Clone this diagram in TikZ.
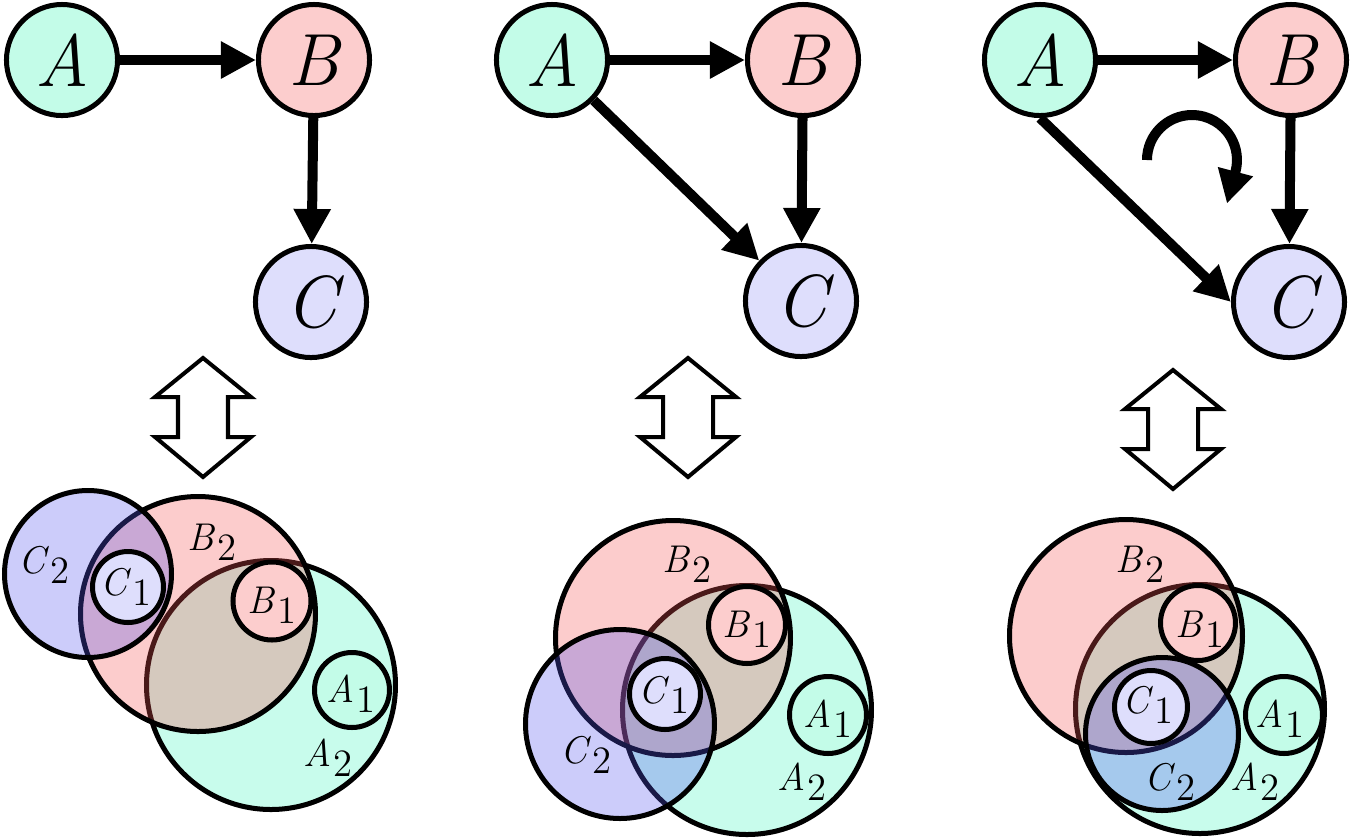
\documentclass[tikz,border=0pt]{standalone}
\usetikzlibrary{arrows.meta}
\definecolor{nA}{RGB}{195,252,232}
\definecolor{nB}{RGB}{252,205,205}
\definecolor{nC}{RGB}{222,222,252}
\definecolor{vA}{RGB}{72,245,192}
\definecolor{vB}{RGB}{245,85,85}
\definecolor{vC}{RGB}{85,85,238}
\newcommand\vlab[2]{\textit{#1}\kern0.05em\raisebox{-0.27em}{\upshape #2}}
\begin{document}
\begin{tikzpicture}[x=0.01cm,y=-0.01cm,
  gnode/.style={circle, draw, line width=0.05cm, minimum size=1.11cm, inner sep=0pt, font=\fontsize{21}{25}\selectfont\itshape},
  garrow/.style={line width=0.1cm, -{Triangle[length=0.35cm,width=0.35cm]}},
  hollow/.style={draw, line width=0.04cm, fill=white, line join=miter},
  big/.style={draw=black, line width=0.05cm, fill opacity=0.3},
  small/.style={draw=black, line width=0.05cm},
  vl/.style={anchor=base, inner sep=0pt, font=\fontsize{11}{13}\selectfont}]
\useasboundingbox (0,0) rectangle (1350,838);

% ---- top graphs ----
\node[gnode,fill=nA] (gA1) at (62,60) {A};
\node[gnode,fill=nB] (gB1) at (314,60) {B};
\node[gnode,fill=nC] (gC1) at (311,302) {C};
\draw[garrow] (gA1) -- (gB1);
\draw[garrow] (gB1) -- (gC1);

\node[gnode,fill=nA] (gA2) at (552,60) {A};
\node[gnode,fill=nB] (gB2) at (803,60) {B};
\node[gnode,fill=nC] (gC2) at (801,301) {C};
\draw[garrow] (gA2) -- (gB2);
\draw[garrow] (gB2) -- (gC2);
\draw[garrow] (gA2) -- (gC2);

\node[gnode,fill=nA] (gA3) at (1040,60) {A};
\node[gnode,fill=nB] (gB3) at (1291,60) {B};
\node[gnode,fill=nC] (gC3) at (1289,302) {C};
\draw[garrow] (gA3) -- (gB3);
\draw[garrow] (gB3) -- (gC3);
\draw[garrow] (gA3.south) -- (gC3.west);
\draw[line width=0.1cm, -{Triangle[length=0.33cm,width=0.34cm]}] (1147,160) arc[start angle=180, end angle=375, radius=45] -- ++(-8.5,31.9);

% ---- hollow double arrows ----
\foreach \cx/\cy in {203/417, 688/417, 1173/429} {
  \draw[hollow] (\cx,\cy) ++(0,-59) -- ++(48,39) -- ++(-23,0) -- ++(0,40) -- ++(23,0) -- ++(-48,40) -- ++(-48,-40) -- ++(23,0) -- ++(0,-40) -- ++(-23,0) -- cycle;
}

% ---- venn 1 ----
\draw[big, fill=vA] (271,685) circle[radius=124.5];
\draw[big, fill=vB] (198,614) circle[radius=117.5];
\draw[big, fill=vC] (88,574) circle[radius=83.5];
\draw[small, fill=nC] (128,587) circle[radius=35.5];
\draw[small, fill=nB] (272,601) circle[radius=39];
\draw[small, fill=nA] (352,690) circle[radius=37.5];
\node[vl] (l1c2) at (44,573) {\vlab{C}{2}};
\node[vl] (l1c1) at (126,595) {\vlab{C}{1}};
\node[vl] (l1b2) at (212,550) {\vlab{B}{2}};
\node[vl] (l1b1) at (272,613) {\vlab{B}{1}};
\node[vl] (l1a1) at (351,702) {\vlab{A}{1}};
\node[vl] (l1a2) at (328,766) {\vlab{A}{2}};

% ---- venn 2 ----
\draw[big, fill=vA] (747,710) circle[radius=124.5];
\draw[big, fill=vB] (673,638) circle[radius=117.5];
\draw[big, fill=vC] (620,724) circle[radius=94.5];
\draw[small, fill=nC] (665,694) circle[radius=35.5];
\draw[small, fill=nB] (747,625) circle[radius=38.5];
\draw[small, fill=nA] (828,715) circle[radius=38.5];
\node[vl] (l2b2) at (687,572) {\vlab{B}{2}};
\node[vl] (l2b1) at (747,637) {\vlab{B}{1}};
\node[vl] (l2c1) at (664,703) {\vlab{C}{1}};
\node[vl] (l2a1) at (828,727) {\vlab{A}{1}};
\node[vl] (l2c2) at (586,763) {\vlab{C}{2}};
\node[vl] (l2a2) at (802,790) {\vlab{A}{2}};

% ---- venn 3 ----
\draw[big, fill=vA] (1200,709) circle[radius=124.5];
\draw[big, fill=vB] (1126,636) circle[radius=116.5];
\draw[big, fill=vC] (1162,734) circle[radius=76.5];
\draw[small, fill=nC] (1151,707) circle[radius=36.5];
\draw[small, fill=nB] (1198,623) circle[radius=37.5];
\draw[small, fill=nA] (1284,715) circle[radius=38.5];
\node[vl] (l3b2) at (1140,572) {\vlab{B}{2}};
\node[vl] (l3b1) at (1200,637) {\vlab{B}{1}};
\node[vl] (l3c1) at (1148,713) {\vlab{C}{1}};
\node[vl] (l3a1) at (1280,727) {\vlab{A}{1}};
\node[vl] (l3c2) at (1170,790) {\vlab{C}{2}};
\node[vl] (l3a2) at (1255,790) {\vlab{A}{2}};
\end{tikzpicture}
\end{document}
